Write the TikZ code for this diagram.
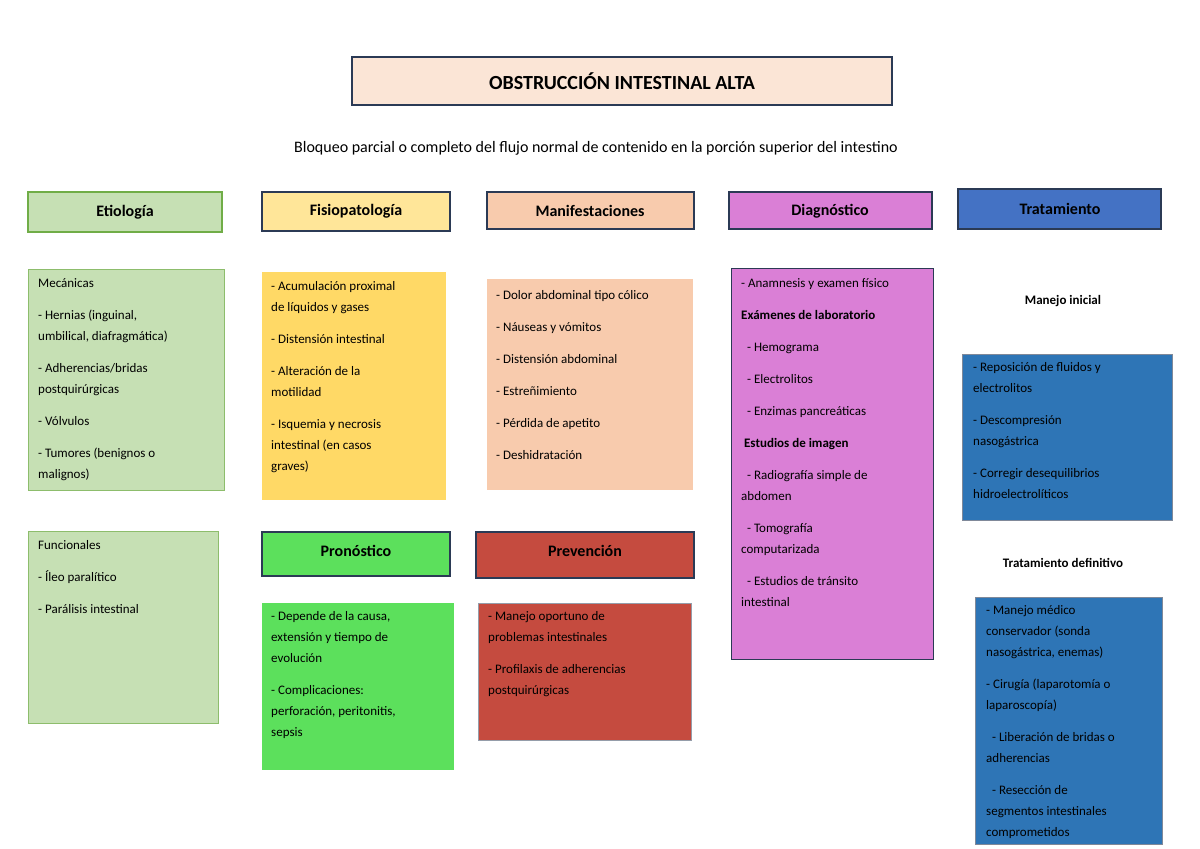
\documentclass[tikz,border=0pt]{standalone}
\usepackage{fontspec}
\setmainfont{Carlito}
\definecolor{navy}{HTML}{2B3A55}
\definecolor{titlef}{HTML}{FBE5D6}
\definecolor{etf}{HTML}{C6E0B4}
\definecolor{etb}{HTML}{70AD47}
\definecolor{fisf}{HTML}{FFE699}
\definecolor{fisc}{HTML}{FFD966}
\definecolor{manf}{HTML}{F8CBAD}
\definecolor{diaf}{HTML}{DA7FD6}
\definecolor{traf}{HTML}{4472C4}
\definecolor{trac}{HTML}{2E75B6}
\definecolor{prof}{HTML}{5CE05C}
\definecolor{prevf}{HTML}{C54B3F}
\tikzset{
 hd/.style={draw=navy,line width=1.5pt,font=\fontsize{16}{19}\selectfont\bfseries},
 txt/.style={anchor=north west,inner sep=0pt,align=left,font=\fontsize{13}{21}\selectfont},
 lbl/.style={font=\fontsize{13}{16}\selectfont\bfseries}
}
\newcommand{\pg}{\\[11pt]}
\begin{document}
\begin{tikzpicture}[x=1pt,y=-1pt]
\useasboundingbox (0,0) rectangle (1200,849);
% title
\draw[hd,fill=titlef] (352,57) rectangle (892,105);
\node[font=\fontsize{20}{24}\selectfont\bfseries] (title) at (622,81) {OBSTRUCCIÓN INTESTINAL ALTA};
\node[font=\fontsize{16}{19}\selectfont] (sub) at (596,148) {Bloqueo parcial o completo del flujo normal de contenido en la porción superior del intestino};
% headers
\draw[hd,draw=etb,fill=etf] (28,192) rectangle (222,232); \node[hd,draw=none] (h1) at (125,212) {Etiología};
\draw[hd,fill=fisf] (262,192) rectangle (450,231); \node[hd,draw=none] (h2) at (356,211) {Fisiopatología};
\draw[hd,fill=manf] (487,192) rectangle (694,229); \node[hd,draw=none] (h3) at (590,211) {Manifestaciones};
\draw[hd,fill=diaf] (729,192) rectangle (932,229); \node[hd,draw=none] (h4) at (830,211) {Diagnóstico};
\draw[hd,fill=traf] (958,189) rectangle (1161,229); \node[hd,draw=none] (h5) at (1060,209) {Tratamiento};
\draw[hd,fill=prof] (262,532) rectangle (450,576); \node[hd,draw=none] (h6) at (356,551) {Pronóstico};
\draw[hd,fill=prevf] (476,532) rectangle (694,578); \node[hd,draw=none] (h7) at (585,551) {Prevención};
% content boxes
\draw[etb!80,line width=1pt,fill=etf] (28,269) rectangle (224,490);
\draw[etb!80,line width=1pt,fill=etf] (28,531) rectangle (218,723);
\fill[fisc] (262,272) rectangle (446,500);
\fill[manf] (487,279) rectangle (693,490);
\draw[navy,line width=1pt,fill=diaf] (731,268) rectangle (933,659);
\draw[navy!60,line width=0.6pt,fill=trac] (962,354) rectangle (1172,520);
\draw[navy!60,line width=0.6pt,fill=trac] (975,597) rectangle (1162,844);
\fill[prof] (262,603) rectangle (454,770);
\draw[navy!50,line width=0.6pt,fill=prevf] (478,603) rectangle (691,740);
% texts
\node[txt] (t1) at (38,278) {Mecánicas\pg - Hernias (inguinal,\\umbilical, diafragmática)\pg - Adherencias/bridas\\postquirúrgicas\pg - Vólvulos\pg - Tumores (benignos o\\malignos)};
\node[txt] (t2) at (38,540) {Funcionales\pg - Íleo paralítico\pg - Parálisis intestinal};
\node[txt] (t3) at (271,281) {- Acumulación proximal\\de líquidos y gases\pg - Distensión intestinal\pg - Alteración de la\\motilidad\pg - Isquemia y necrosis\\intestinal (en casos\\graves)};
\node[txt] (t4) at (496,290) {- Dolor abdominal tipo cólico\pg - Náuseas y vómitos\pg - Distensión abdominal\pg - Estreñimiento\pg - Pérdida de apetito\pg - Deshidratación};
\node[txt] (t5) at (741,278) {- Anamnesis y examen físico\pg \textbf{Exámenes de laboratorio}\pg \ \ - Hemograma\pg \ \ - Electrolitos\pg \ \ - Enzimas pancreáticas\pg \ \textbf{Estudios de imagen}\pg \ \ - Radiografía simple de\\abdomen\pg \ \ - Tomografía\\computarizada\pg \ \ - Estudios de tránsito\\intestinal};
\node[lbl] (l1) at (1063,301) {Manejo inicial};
\node[lbl] (l2) at (1063,563) {Tratamiento definitivo};
\node[txt] (t6) at (973,362) {- Reposición de fluidos y\\electrolitos\pg - Descompresión\\nasogástrica\pg - Corregir desequilibrios\\hidroelectrolíticos};
\node[txt] (t7) at (986,605) {- Manejo médico\\conservador (sonda\\nasogástrica, enemas)\pg - Cirugía (laparotomía o\\laparoscopía)\pg \ \ - Liberación de bridas o\\adherencias\pg \ \ - Resección de\\segmentos intestinales\\comprometidos};
\node[txt] (t8) at (271,611) {- Depende de la causa,\\extensión y tiempo de\\evolución\pg - Complicaciones:\\perforación, peritonitis,\\sepsis};
\node[txt] (t9) at (488,611) {- Manejo oportuno de\\problemas intestinales\pg - Profilaxis de adherencias\\postquirúrgicas};
\end{tikzpicture}
\end{document}
